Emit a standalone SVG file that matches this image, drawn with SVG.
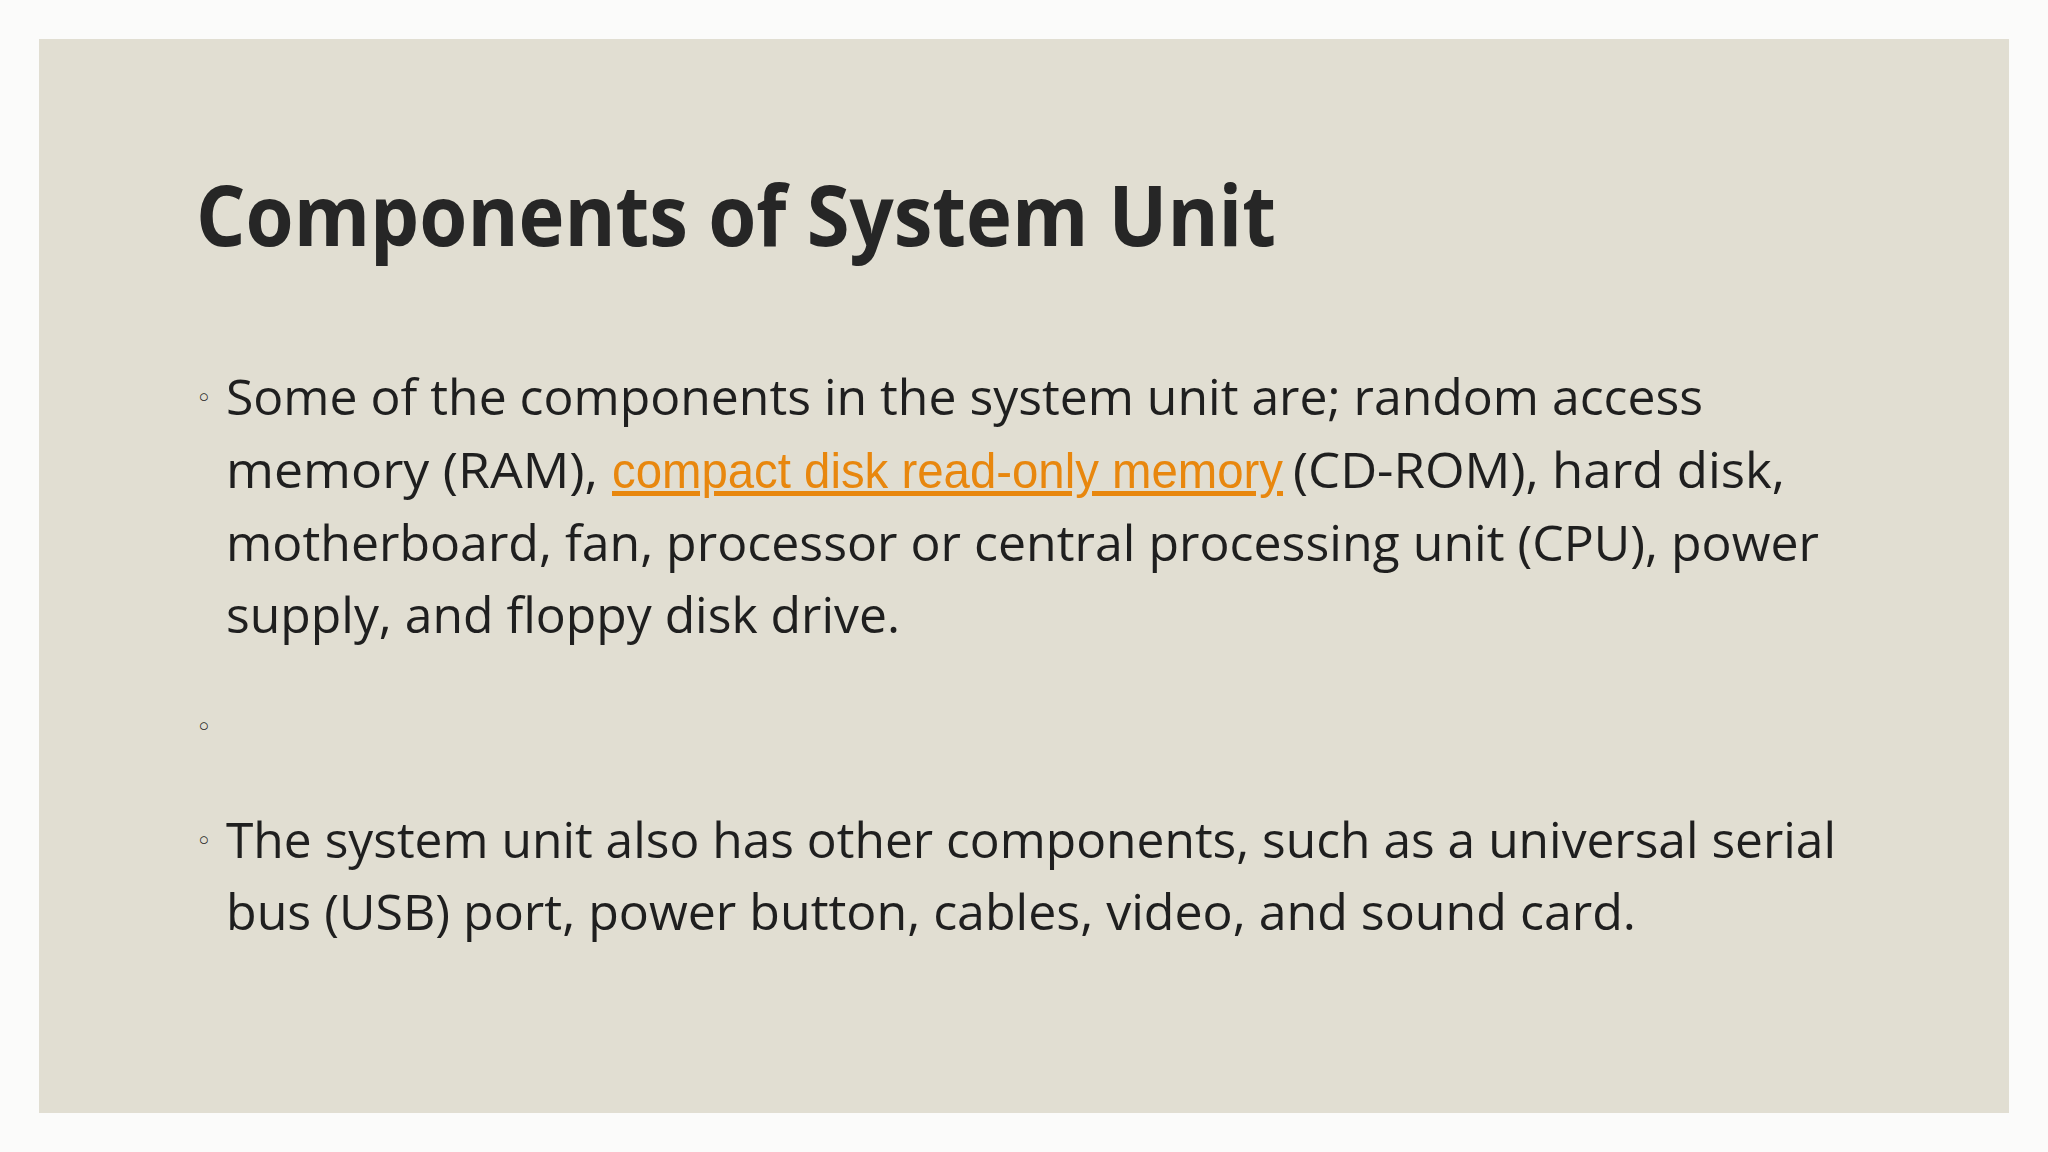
<svg xmlns="http://www.w3.org/2000/svg" width="2048" height="1152" viewBox="0 0 2048 1152">
<style>
.b{font-family:"Open Sans","Noto Sans",sans-serif;font-size:50px;fill:#1f1f1f}
.bul{font-family:"DejaVu Sans",sans-serif;font-size:26px;fill:#1f1f1f}
.l{font-family:"Liberation Sans",sans-serif;font-size:50px;fill:#e8870e;text-decoration:underline}
</style>
<rect width="2048" height="1152" fill="#fbfbfa"/>
<rect x="39" y="39" width="1970" height="1074" fill="#e1ded2"/>
<g id="title"><text x="196" y="246" font-family="Open Sans, sans-serif" font-weight="bold" font-size="84" fill="#262626" textLength="1080" lengthAdjust="spacingAndGlyphs">Components of System Unit</text></g>
<g id="bullet1">
<text class="bul" x="196" y="407">◦</text>
<text class="b" x="226" y="415" textLength="1477" lengthAdjust="spacingAndGlyphs">Some of the components in the system unit are; random access</text>
<text class="b" x="226" y="488" textLength="372" lengthAdjust="spacingAndGlyphs">memory (RAM),</text>
<text class="l" x="612" y="488" textLength="671" lengthAdjust="spacingAndGlyphs">compact disk read-only memory</text>
<text class="b" x="1293" y="488" textLength="492" lengthAdjust="spacingAndGlyphs">(CD-ROM), hard disk,</text>
<text class="b" x="226" y="561" textLength="1593" lengthAdjust="spacingAndGlyphs">motherboard, fan, processor or central processing unit (CPU), power</text>
<text class="b" x="226" y="633" textLength="674" lengthAdjust="spacingAndGlyphs">supply, and floppy disk drive.</text>
</g>
<g id="bullet2"><text class="bul" x="196" y="736">◦</text></g>
<g id="bullet3">
<text class="bul" x="196" y="850">◦</text>
<text class="b" x="226" y="858" textLength="1610" lengthAdjust="spacingAndGlyphs">The system unit also has other components, such as a universal serial</text>
<text class="b" x="226" y="930" textLength="1410" lengthAdjust="spacingAndGlyphs">bus (USB) port, power button, cables, video, and sound card.</text>
</g>
<g id="connectors"/>
</svg>
